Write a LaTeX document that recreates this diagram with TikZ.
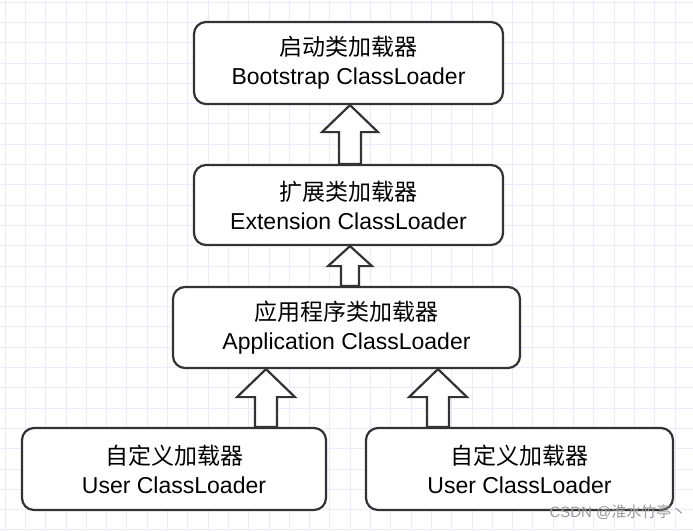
\documentclass[tikz,border=0pt]{standalone}
\usepackage{fontspec}
\setmainfont{Liberation Sans}
\newfontfamily\cjk{Noto Sans CJK SC}
\usetikzlibrary{calc}
\definecolor{gridc}{RGB}{238,233,252}
\tikzset{
 box/.style={draw=black!80,line width=2.2pt,rounded corners=12pt,fill=white,align=center,inner sep=0pt,font=\fontsize{23}{29}\selectfont},
 barrow/.style={draw=black!80,line width=2.2pt,fill=white,line join=miter}
}
% #1 x-center, #2 bottom y node anchor, #3 top y node anchor, #4 half shaft, #5 half head, #6 head length
\newcommand{\blockarr}[6]{%
 \draw[barrow] let \p1=(#2),\p2=(#3) in
  (#1-#4,\y1) -- (#1-#4,\y2-#6) -- (#1-#5,\y2-#6) -- (#1,\y2) -- (#1+#5,\y2-#6) -- (#1+#4,\y2-#6) -- (#1+#4,\y1) -- cycle;}
\begin{document}
\begin{tikzpicture}[x=1pt,y=-1pt]
\useasboundingbox (0,0) rectangle (693,531);
\fill[white] (0,0) rectangle (693,531);
\foreach \i in {0,...,34} {\draw[gridc,line width=0.7pt] (5+20.3*\i,0) -- (5+20.3*\i,531);}
\foreach \j in {0,...,26} {\draw[gridc,line width=0.7pt] (0,2+20.3*\j) -- (693,2+20.3*\j);}
\node[box,minimum width=309pt,minimum height=82pt] (boot) at (348.5,63) {{\cjk 启动类加载器}\\Bootstrap ClassLoader};
\node[box,minimum width=309pt,minimum height=80pt] (ext) at (348.5,205) {{\cjk 扩展类加载器}\\Extension ClassLoader};
\node[box,minimum width=347pt,minimum height=81pt] (app) at (346.5,327.5) {{\cjk 应用程序类加载器}\\Application ClassLoader};
\node[box,minimum width=304pt,minimum height=82pt] (u1) at (174,469) {{\cjk 自定义加载器}\\User ClassLoader};
\node[box,minimum width=307pt,minimum height=82pt] (u2) at (519.5,469) {{\cjk 自定义加载器}\\User ClassLoader};
\blockarr{350}{ext.north}{boot.south}{11}{28}{27}
\blockarr{350}{app.north}{ext.south}{9}{22}{20}
\blockarr{266}{u1.north}{app.south}{11}{29}{28}
\blockarr{438}{u2.north}{app.south}{11}{29}{28}
\node[text=black!40,font=\fontsize{15}{15}\selectfont,anchor=east] (wm) at (690,512) {CSDN @{\cjk 淮水竹亭丶}};
\end{tikzpicture}
\end{document}
